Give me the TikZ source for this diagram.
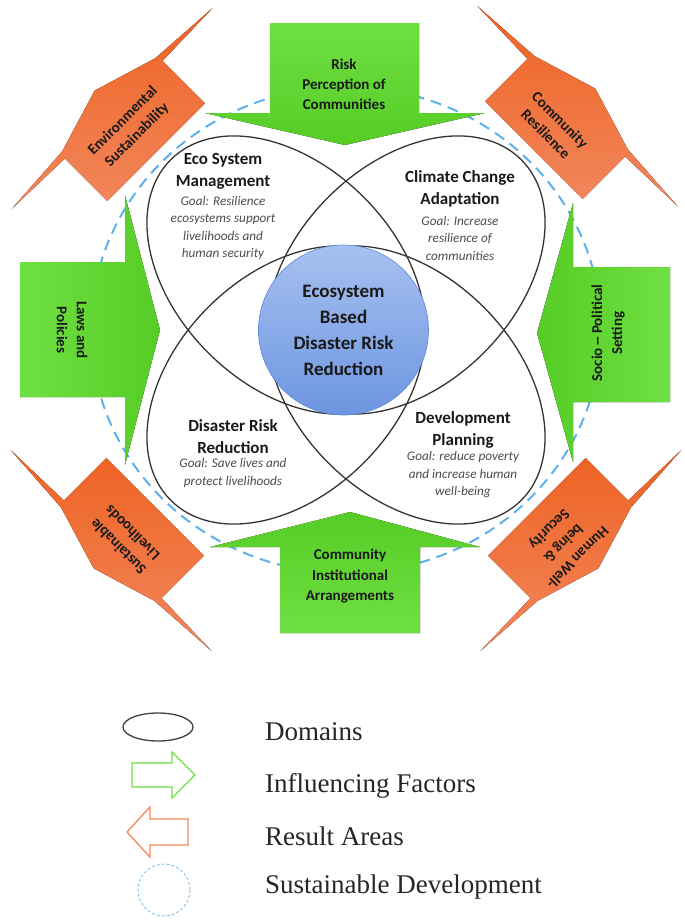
\documentclass[tikz,border=0pt]{standalone}
\usepackage{fontspec}
\setmainfont{Liberation Serif}
\newfontfamily\carlito{Carlito}
\usetikzlibrary{positioning}
\definecolor{fgreen}{HTML}{56CC25}
\definecolor{fgreenlt}{HTML}{6FE043}
\definecolor{rorange}{HTML}{EE6222}
\definecolor{rorangelt}{HTML}{F2875C}
\definecolor{sdblue}{HTML}{5DB1EA}
\definecolor{corelt}{HTML}{A6C1F0}
\definecolor{coredk}{HTML}{6D95E0}
\definecolor{coreline}{HTML}{5A88D8}

\begin{document}
\begin{tikzpicture}[x=1pt, y=-1pt,
  domainline/.style={draw=black!80, line width=1.3pt},
  result/.style={top color=rorange, bottom color=rorangelt},
  sdev/.style={draw=sdblue, line width=2pt, dash pattern=on 11pt off 7pt},
  flbl/.style={font=\carlito\bfseries\fontsize{15}{20}\selectfont, align=center, text=black!90, inner sep=0pt},
  dtitle/.style={font=\carlito\bfseries\fontsize{17}{22}\selectfont, align=center, text=black!90, inner sep=0pt},
  goal/.style={font=\carlito\itshape\fontsize{13.2}{17.5}\selectfont, align=center, text=black!70, inner sep=0pt},
  legtxt/.style={font=\fontsize{27}{30}\selectfont, anchor=base west, inner sep=0pt, text=black!85},
]
  \useasboundingbox (0,0) rectangle (685,921);

  % sustainable development
  \draw[sdev] (346,330) ellipse [x radius=255, y radius=243];

  % result areas
  \foreach \ang/\dx/\dy in {45/-6/6, -45/4/4, 135/-7/-7, -135/7/-7}
    \fill[result, shift={(346+\dx,330+\dy)}, rotate=\ang]
      (-69,-260) -- (-69,-320) -- (-142,-322) -- (-66,-327) -- (0,-347)
      -- (66,-327) -- (142,-322) -- (69,-320) -- (69,-260) -- cycle;

  % influencing factors
  \fill[top color=fgreenlt, bottom color=fgreen]
    (270,23) -- (419,23) -- (419,113) -- (485,113) -- (345,145) -- (205,113) -- (270,113) -- cycle;
  \fill[top color=fgreen, bottom color=fgreenlt]
    (280,633) -- (420,633) -- (420,547) -- (480,547) -- (350,512) -- (210,547) -- (280,547) -- cycle;
  \fill[left color=fgreenlt, right color=fgreen]
    (20,262) -- (125,262) -- (125,195) -- (160,330) -- (125,465) -- (125,397) -- (20,397) -- cycle;
  \fill[left color=fgreen, right color=fgreenlt]
    (670,267) -- (573,267) -- (573,203) -- (537,333) -- (573,462) -- (573,402) -- (670,402) -- cycle;

  % domains
  \draw[domainline, rotate around={-45:(286,275)}] (286,275) ellipse [x radius=163, y radius=110];
  \draw[domainline, rotate around={45:(406,275)}] (406,275) ellipse [x radius=163, y radius=110];
  \draw[domainline, rotate around={45:(286,385)}] (286,385) ellipse [x radius=163, y radius=110];
  \draw[domainline, rotate around={-45:(406,385)}] (406,385) ellipse [x radius=163, y radius=110];

  % core
  \node[circle, draw=coreline, line width=0.6pt, minimum size=170pt, inner sep=0pt, top color=corelt, bottom color=coredk,
        font=\carlito\bfseries\fontsize{19}{26}\selectfont, align=center, text=black!90] (core) at (343.5,330)
        {Ecosystem\\Based\\Disaster Risk\\Reduction};

  \node[dtitle] (esm) at (223,171) {Eco System\\Management};
  \node[goal] (esmgoal) at (223,228) {Goal: Resilience\\ecosystems support\\livelihoods and\\human security};
  \node[dtitle] (cca) at (460,189) {Climate Change\\Adaptation};
  \node[goal] (ccagoal) at (460,238) {Goal: Increase\\resilience of\\communities};
  \node[dtitle] (drr) at (233,437) {Disaster Risk\\Reduction};
  \node[goal] (drrgoal) at (233,473) {Goal: Save lives and\\protect livelihoods};
  \node[dtitle] (dvp) at (463,430) {Development\\Planning};
  \node[goal] (dvpgoal) at (463,475) {Goal: reduce poverty\\and increase human\\well-being};

  % factor labels
  \node[flbl] (rpc) at (344,84) {Risk\\Perception of\\Communities};
  \node[flbl] (cia) at (350,576) {Community\\Institutional\\Arrangements};
  \node[flbl, rotate=-90] (lap) at (72,330) {Laws and\\Policies};
  \node[flbl, rotate=90] (sps) at (608,333) {Socio\,--\,Political\\Setting};

  % result labels
  \node[flbl, rotate=45] (envs) at (130,128) {Environmental\\Sustainability};
  \node[flbl, rotate=-45] (comr) at (553,127) {Community\\Resilience};
  \node[flbl, rotate=135] (susl) at (125,540) {Sustainable\\Livelihoods};
  \node[flbl, rotate=-135] (hwbs) at (563,543) {Human Well-\\being \&\\Security};

  % legend
  \draw[black!75, line width=1.3pt] (158,727) ellipse [x radius=35, y radius=14];
  \draw[fgreenlt, line width=1.3pt]
    (132,763) -- (172,763) -- (172,752) -- (195,775) -- (172,798) -- (172,787) -- (132,787) -- cycle;
  \draw[rorangelt, line width=1.3pt]
    (188,819) -- (150,819) -- (150,807) -- (127,832) -- (150,857) -- (150,845) -- (188,845) -- cycle;
  \draw[sdblue!70, line width=1pt, dash pattern=on 3pt off 2pt] (164,890) circle [radius=26];

  \node[legtxt] (ldom) at (265,740) {Domains};
  \node[legtxt] (lfac) at (265,792) {Influencing Factors};
  \node[legtxt] (lres) at (265,845) {Result Areas};
  \node[legtxt] (lsus) at (265,893) {Sustainable Development};
\end{tikzpicture}
\end{document}
